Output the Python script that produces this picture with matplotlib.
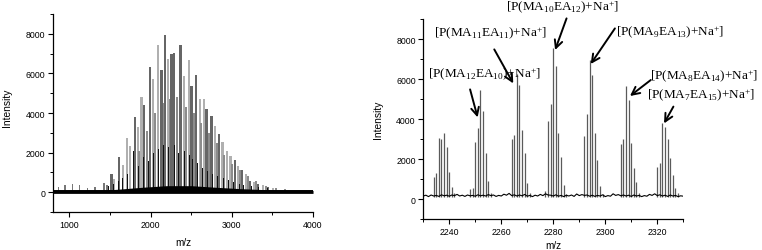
import matplotlib
matplotlib.use('Agg')
import matplotlib.pyplot as plt
from matplotlib.ticker import MultipleLocator

plt.rcParams['font.family'] = 'Liberation Sans'
plt.rcParams['mathtext.fontset'] = 'custom'
plt.rcParams['mathtext.rm'] = 'Liberation Serif'
plt.rcParams['mathtext.it'] = 'Liberation Serif:italic'

# ---- left panel: full MALDI spectrum ----
main_mz = [1520, 1615, 1807, 1918, 1992, 2135, 2176, 2258, 2287, 2369,
           2504, 2558, 2689, 2750, 2840, 3037, 3128, 3222, 3324, 3447]
main_int = [920, 1760, 3780, 4400, 6330, 6170, 7920, 6960, 7010, 7430,
            5370, 5910, 4190, 3860, 2940, 1640, 1140, 590, 420, 250]

light_mz = [1553, 1656, 1705, 1746, 1848, 1889, 2033, 2094, 2217, 2410,
            2471, 2607, 2656, 2791, 2886, 2943, 2984, 3078, 3173, 3271,
            3386, 3509]
light_int = [670, 1380, 2720, 2350, 3270, 4820, 5700, 7420, 6710, 5870,
             6660, 4700, 4730, 3360, 2520, 2100, 1850, 1340, 920, 500,
             340, 200]

mid_mz = [1860, 1960, 2060, 2155, 2235, 2330, 2440, 2530, 2625, 2720,
          2815, 2910, 3005, 3100, 3200, 3300, 3420, 3550, 3650]
mid_int = [2100, 3100, 4000, 4500, 4700, 4800, 4300, 4000, 3500, 3000,
           2500, 1900, 1400, 1100, 800, 550, 330, 220, 180]

dark_mz = [1480, 1540, 1600, 1660, 1720, 1790, 1850, 1912, 1975, 2035,
           2100, 2160, 2225, 2300, 2345, 2420, 2480, 2520, 2581, 2638,
           2700, 2761, 2827, 2893, 2955, 3020, 3090, 3150, 3240, 3330, 3440]
dark_int = [300, 400, 550, 700, 900, 2080, 1300, 1800, 1600, 2000,
            2200, 2400, 2300, 2400, 2000, 2100, 1900, 1700, 1490, 1240,
            1070, 900, 820, 730, 600, 500, 420, 350, 300, 250, 200]

small_mz = [864, 946, 1041, 1123, 1221, 1315, 1426, 1467]
small_int = [250, 340, 420, 340, 230, 250, 450, 370]

band_mz = [800, 1400, 1600, 1900, 2200, 2500, 2800, 3100, 3400, 3700, 4000]
band_top = [80, 100, 150, 250, 330, 330, 250, 180, 130, 100, 90]

# ---- right panel: expanded region ----
zoom_mz = [2234, 2235, 2236, 2237, 2238, 2239, 2240, 2241, 2242,
           2248, 2249, 2250, 2251, 2252, 2253, 2254, 2255, 2256,
           2264, 2265, 2266, 2267, 2268, 2269, 2270, 2271,
           2277, 2278, 2279, 2280, 2281, 2282, 2283, 2284, 2285,
           2292, 2293, 2294, 2295, 2296, 2297, 2298, 2299,
           2306, 2307, 2308, 2309, 2310, 2311, 2312, 2313,
           2320, 2321, 2322, 2323, 2324, 2325, 2326, 2327, 2328]
zoom_int = [1080, 1280, 3030, 2980, 3320, 2580, 1370, 620, 300,
            520, 550, 2850, 3550, 5450, 4420, 2300, 880, 300,
            2990, 3200, 6260, 5710, 3460, 2290, 820, 300,
            400, 3900, 4750, 7550, 6650, 3300, 2100, 700, 250,
            3150, 4250, 6950, 6200, 3300, 1950, 650, 250,
            2750, 3000, 5650, 4950, 2800, 1550, 850, 300,
            1600, 1800, 3800, 3600, 3000, 2050, 1200, 550, 300]

noise_mz = list(range(2230, 2331))
noise_int = [150, 190, 120, 200, 150, 180, 130, 210, 160, 190,
             140, 200, 170, 230, 150, 190, 130, 200, 160, 180,
             140, 210, 160, 190, 150, 220, 170, 200, 130, 180,
             150, 240, 190, 280, 170, 210, 150, 200, 160, 230,
             140, 180, 120, 190, 150, 230, 170, 260, 200, 190,
             150, 210, 140, 180, 120, 190, 150, 200, 130, 250,
             170, 220, 180, 200, 140, 190, 130, 180, 150, 210,
             120, 170, 140, 260, 180, 220, 160, 200, 150, 190,
             130, 200, 150, 180, 120, 170, 140, 230, 180, 260,
             170, 210, 150, 190, 130, 200, 150, 180, 120, 160,
             140]

labels = [r'[P(MA$_{12}$EA$_{10}$)+Na$^{+}$]',
          r'[P(MA$_{11}$EA$_{11}$)+Na$^{+}$]',
          r'[P(MA$_{10}$EA$_{12}$)+Na$^{+}$]',
          r'[P(MA$_{9}$EA$_{13}$)+Na$^{+}$]',
          r'[P(MA$_{8}$EA$_{14}$)+Na$^{+}$]',
          r'[P(MA$_{7}$EA$_{15}$)+Na$^{+}$]']


def style_axes(ax):
    ax.spines['top'].set_visible(False)
    ax.spines['right'].set_visible(False)
    ax.spines['left'].set_linewidth(0.9)
    ax.spines['bottom'].set_linewidth(0.9)
    ax.tick_params(which='major', direction='out', length=3.5, width=0.8,
                   labelsize=6.3, pad=2)
    ax.tick_params(which='minor', direction='out', length=2, width=0.7)
    ax.yaxis.set_major_locator(MultipleLocator(2000))
    ax.yaxis.set_minor_locator(MultipleLocator(1000))
    ax.set_ylim(-1000, 9000)


fig = plt.figure(figsize=(7.62, 2.51), dpi=100)

ax1 = fig.add_axes([0.0696, 0.1514, 0.3412, 0.7886])
ax1.bar(light_mz, light_int, width=26, color='#b0b0b0', linewidth=0)
ax1.bar(mid_mz, mid_int, width=24, color='#8c8c8c', linewidth=0)
ax1.bar(main_mz, main_int, width=26, color='#666666', linewidth=0)
ax1.bar(small_mz, small_int, width=18, color='#777777', linewidth=0)
ax1.bar(dark_mz, dark_int, width=12, color='#111111', linewidth=0)
ax1.fill_between(band_mz, -60, band_top, color='black', linewidth=0)
ax1.plot([800, 4000], [40, 40], color='black', lw=1.4)
ax1.set_xlim(800, 4000)
style_axes(ax1)
ax1.xaxis.set_major_locator(MultipleLocator(1000))
ax1.xaxis.set_minor_locator(MultipleLocator(500))
ax1.set_xlabel('m/z', fontsize=7.2)
ax1.set_ylabel('Intensity', fontsize=7.4)
ax1.yaxis.set_label_coords(-0.158, 0.53)
ax1.xaxis.set_label_coords(0.5, -0.125)

ax2 = fig.add_axes([0.5555, 0.1235, 0.3412, 0.7968])
ax2.vlines(zoom_mz, 100, zoom_int, color='#5a5a5a', lw=0.9)
ax2.plot(noise_mz, noise_int, color='black', lw=0.8)
ax2.set_xlim(2230, 2330)
style_axes(ax2)
ax2.xaxis.set_major_locator(MultipleLocator(20))
ax2.xaxis.set_minor_locator(MultipleLocator(10))
ax2.set_xlabel('m/z', fontsize=7.2)
ax2.set_ylabel('Intensity', fontsize=7.4)
ax2.yaxis.set_label_coords(-0.155, 0.5)
ax2.xaxis.set_label_coords(0.5, -0.105)

# label text centres and arrows (start -> tip) in data coordinates
text_pos = [(2253.4, 6250), (2256.0, 8300), (2283.7, 9600),
            (2325.0, 8370), (2338.0, 6150), (2336.7, 5200)]
arrows = [((2248.0, 5480), (2250.9, 4080)),
          ((2257.3, 7480), (2264.6, 5780)),
          ((2285.1, 9030), (2280.7, 7450)),
          ((2303.7, 8530), (2294.4, 6750)),
          ((2317.5, 5950), (2309.5, 5150)),
          ((2326.2, 4620), (2322.6, 3780))]

for lab, (tx, ty), (start, tip) in zip(labels, text_pos, arrows):
    ax2.text(tx, ty, lab, fontsize=9.5, family='Liberation Serif',
             ha='center', va='center', clip_on=False)
    ax2.annotate('', xy=tip, xytext=start, annotation_clip=False,
                 arrowprops=dict(arrowstyle='->', lw=1.4, color='black',
                                 mutation_scale=14, shrinkA=0, shrinkB=0))

fig.savefig('out.png', dpi=100)
